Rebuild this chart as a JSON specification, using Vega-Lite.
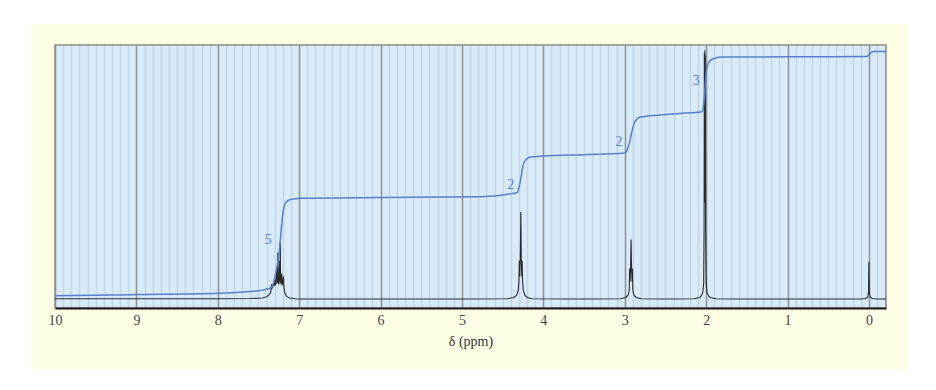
{
  "$schema": "https://vega.github.io/schema/vega-lite/v6.json",
  "width": 831,
  "height": 263,
  "autosize": "none",
  "padding": {"left": 55, "top": 45, "right": 50, "bottom": 82},
  "background": "white",
  "config": {"view": {"stroke": null, "fill": "#d9eaf8"}, "font": "Liberation Serif"},
  "datasets": {
    "spectrum": [
      {"ppm": 10, "s": 3.5}, {"ppm": 8, "s": 3.5}, {"ppm": 7.6, "s": 3.6}, {"ppm": 7.45, "s": 3.8}, {"ppm": 7.4, "s": 4.3}, {"ppm": 7.37, "s": 5.0}, {"ppm": 7.35, "s": 6.0},
      {"ppm": 7.345, "s": 7}, {"ppm": 7.34, "s": 9}, {"ppm": 7.335, "s": 7.5}, {"ppm": 7.325, "s": 8}, {"ppm": 7.315, "s": 9.5}, {"ppm": 7.305, "s": 8.5}, {"ppm": 7.3, "s": 11}, {"ppm": 7.295, "s": 8.5}, {"ppm": 7.285, "s": 9.5}, {"ppm": 7.28, "s": 14}, {"ppm": 7.275, "s": 9.5}, {"ppm": 7.268, "s": 10}, {"ppm": 7.262, "s": 21}, {"ppm": 7.256, "s": 9.5}, {"ppm": 7.248, "s": 9}, {"ppm": 7.24, "s": 18}, {"ppm": 7.236, "s": 10}, {"ppm": 7.232, "s": 25}, {"ppm": 7.228, "s": 10}, {"ppm": 7.22, "s": 9}, {"ppm": 7.214, "s": 13}, {"ppm": 7.208, "s": 9}, {"ppm": 7.2, "s": 9.5}, {"ppm": 7.193, "s": 12}, {"ppm": 7.187, "s": 8}, {"ppm": 7.18, "s": 6.5}, {"ppm": 7.17, "s": 5.2}, {"ppm": 7.15, "s": 4.3}, {"ppm": 7.12, "s": 3.8}, {"ppm": 7.05, "s": 3.5},
      {"ppm": 7.0, "s": 3.4}, {"ppm": 6.0, "s": 3.4}, {"ppm": 5.0, "s": 3.4}, {"ppm": 4.45, "s": 3.5}, {"ppm": 4.36, "s": 4.0}, {"ppm": 4.33, "s": 4.8}, {"ppm": 4.31, "s": 6.5},
      {"ppm": 4.3, "s": 10}, {"ppm": 4.295, "s": 18}, {"ppm": 4.29, "s": 12}, {"ppm": 4.283, "s": 19}, {"ppm": 4.277, "s": 36.5}, {"ppm": 4.271, "s": 19}, {"ppm": 4.265, "s": 12}, {"ppm": 4.26, "s": 18}, {"ppm": 4.255, "s": 10}, {"ppm": 4.245, "s": 6.5}, {"ppm": 4.225, "s": 4.8}, {"ppm": 4.2, "s": 4.0}, {"ppm": 4.14, "s": 3.5},
      {"ppm": 3.5, "s": 3.4}, {"ppm": 3.05, "s": 3.5}, {"ppm": 2.99, "s": 4.0}, {"ppm": 2.96, "s": 4.8}, {"ppm": 2.945, "s": 6.5}, {"ppm": 2.94, "s": 15}, {"ppm": 2.935, "s": 10}, {"ppm": 2.928, "s": 15}, {"ppm": 2.922, "s": 26}, {"ppm": 2.916, "s": 15}, {"ppm": 2.91, "s": 10}, {"ppm": 2.905, "s": 15}, {"ppm": 2.9, "s": 6.5}, {"ppm": 2.885, "s": 4.8}, {"ppm": 2.86, "s": 4.0}, {"ppm": 2.8, "s": 3.5},
      {"ppm": 2.5, "s": 3.4}, {"ppm": 2.15, "s": 3.5}, {"ppm": 2.08, "s": 4.0}, {"ppm": 2.06, "s": 4.6}, {"ppm": 2.04, "s": 6}, {"ppm": 2.03, "s": 9.5}, {"ppm": 2.025, "s": 30}, {"ppm": 2.022, "s": 97}, {"ppm": 2.019, "s": 40}, {"ppm": 2.016, "s": 98}, {"ppm": 2.013, "s": 40}, {"ppm": 2.01, "s": 96}, {"ppm": 2.006, "s": 30}, {"ppm": 2.0, "s": 9.5}, {"ppm": 1.99, "s": 6}, {"ppm": 1.97, "s": 4.6}, {"ppm": 1.95, "s": 4.0}, {"ppm": 1.88, "s": 3.5}, {"ppm": 1.6, "s": 3.4},
      {"ppm": 1.0, "s": 3.4}, {"ppm": 0.1, "s": 3.4}, {"ppm": 0.04, "s": 3.6}, {"ppm": 0.015, "s": 4.2}, {"ppm": 0.005, "s": 6}, {"ppm": 0.0, "s": 17.6}, {"ppm": -0.005, "s": 6}, {"ppm": -0.015, "s": 4.2}, {"ppm": -0.04, "s": 3.6}, {"ppm": -0.1, "s": 3.4}, {"ppm": -0.21, "s": 3.4}
    ],
    "integral": [
      {"ppm": 10, "i": 4.7}, {"ppm": 9, "i": 5.1}, {"ppm": 8, "i": 5.6}, {"ppm": 7.6, "i": 6.3}, {"ppm": 7.45, "i": 6.8}, {"ppm": 7.4, "i": 7.2}, {"ppm": 7.35, "i": 7.6}, {"ppm": 7.32, "i": 9}, {"ppm": 7.29, "i": 13}, {"ppm": 7.26, "i": 18}, {"ppm": 7.24, "i": 23.3}, {"ppm": 7.22, "i": 30}, {"ppm": 7.2, "i": 36}, {"ppm": 7.18, "i": 39}, {"ppm": 7.155, "i": 40.4}, {"ppm": 7.12, "i": 41.1}, {"ppm": 7.07, "i": 41.4}, {"ppm": 6.99, "i": 41.7}, {"ppm": 6.0, "i": 42.0}, {"ppm": 4.78, "i": 42.3}, {"ppm": 4.4, "i": 43.4}, {"ppm": 4.33, "i": 43.8}, {"ppm": 4.31, "i": 44.6}, {"ppm": 4.29, "i": 47}, {"ppm": 4.27, "i": 50.5}, {"ppm": 4.25, "i": 54}, {"ppm": 4.23, "i": 55.8}, {"ppm": 4.2, "i": 56.8}, {"ppm": 4.17, "i": 57.3}, {"ppm": 4.0, "i": 57.8}, {"ppm": 3.5, "i": 58.3}, {"ppm": 3.02, "i": 58.8}, {"ppm": 2.98, "i": 59.5}, {"ppm": 2.96, "i": 61}, {"ppm": 2.94, "i": 63}, {"ppm": 2.92, "i": 66}, {"ppm": 2.9, "i": 68.5}, {"ppm": 2.88, "i": 70.5}, {"ppm": 2.85, "i": 71.8}, {"ppm": 2.81, "i": 72.6}, {"ppm": 2.57, "i": 73.4}, {"ppm": 2.2, "i": 74.2}, {"ppm": 2.06, "i": 74.5}, {"ppm": 2.04, "i": 75.2}, {"ppm": 2.025, "i": 79}, {"ppm": 2.01, "i": 85}, {"ppm": 2.0, "i": 89}, {"ppm": 1.985, "i": 92}, {"ppm": 1.96, "i": 93.7}, {"ppm": 1.93, "i": 94.5}, {"ppm": 1.9, "i": 94.9}, {"ppm": 1.8, "i": 95.4}, {"ppm": 1.0, "i": 95.5}, {"ppm": 0.03, "i": 95.6}, {"ppm": 0.01, "i": 96}, {"ppm": -0.01, "i": 96.6}, {"ppm": -0.03, "i": 97.2}, {"ppm": -0.06, "i": 97.5}, {"ppm": -0.21, "i": 97.5}
    ],
    "labels": [
      {"ppm": 7.38, "v": 25.9, "t": "5"},
      {"ppm": 4.4, "v": 46.8, "t": "2"},
      {"ppm": 3.07, "v": 63.2, "t": "2"},
      {"ppm": 2.12, "v": 86.4, "t": "3"}
    ]
  },
  "layer": [
    {
      "data": {"values": [{}]},
      "mark": {"type": "rect", "fill": "#fefde6"},
      "encoding": {
        "x": {"datum": 10.295, "type": "quantitative", "scale": {"domain": [-0.21, 10], "reverse": true, "nice": false, "zero": false}, "axis": null},
        "x2": {"datum": -0.491},
        "y": {"datum": 100, "type": "quantitative", "scale": {"domain": [0, 100], "nice": false, "zero": false}, "axis": null},
        "y2": {"datum": 108}
      }
    },
    {
      "data": {"values": [{}]},
      "mark": {"type": "rect", "fill": "#fefde6"},
      "encoding": {
        "x": {"datum": 10.295, "type": "quantitative", "axis": null},
        "x2": {"datum": -0.491},
        "y": {"datum": -23.6, "type": "quantitative", "axis": null},
        "y2": {"datum": 0}
      }
    },
    {
      "data": {"values": [{}]},
      "mark": {"type": "rect", "fill": "#fefde6"},
      "encoding": {
        "x": {"datum": 10.295, "type": "quantitative", "axis": null},
        "x2": {"datum": 10},
        "y": {"datum": -23.6, "type": "quantitative", "axis": null},
        "y2": {"datum": 108}
      }
    },
    {
      "data": {"values": [{}]},
      "mark": {"type": "rect", "fill": "#fefde6"},
      "encoding": {
        "x": {"datum": -0.21, "type": "quantitative", "axis": null},
        "x2": {"datum": -0.491},
        "y": {"datum": -23.6, "type": "quantitative", "axis": null},
        "y2": {"datum": 108}
      }
    },
    {
      "data": {"values": [{}]},
      "mark": {"type": "rect", "fillOpacity": 0, "stroke": "#8a8a8a", "strokeWidth": 1.5},
      "encoding": {
        "x": {"datum": 10, "type": "quantitative", "axis": {
          "orient": "bottom",
          "values": [-0.2, -0.1, 0, 0.1, 0.2, 0.3, 0.4, 0.5, 0.6, 0.7, 0.8, 0.9, 1, 1.1, 1.2, 1.3, 1.4, 1.5, 1.6, 1.7, 1.8, 1.9, 2, 2.1, 2.2, 2.3, 2.4, 2.5, 2.6, 2.7, 2.8, 2.9, 3, 3.1, 3.2, 3.3, 3.4, 3.5, 3.6, 3.7, 3.8, 3.9, 4, 4.1, 4.2, 4.3, 4.4, 4.5, 4.6, 4.7, 4.8, 4.9, 5, 5.1, 5.2, 5.3, 5.4, 5.5, 5.6, 5.7, 5.8, 5.9, 6, 6.1, 6.2, 6.3, 6.4, 6.5, 6.6, 6.7, 6.8, 6.9, 7, 7.1, 7.2, 7.3, 7.4, 7.5, 7.6, 7.7, 7.8, 7.9, 8, 8.1, 8.2, 8.3, 8.4, 8.5, 8.6, 8.7, 8.8, 8.9, 9, 9.1, 9.2, 9.3, 9.4, 9.5, 9.6, 9.7, 9.8, 9.9, 10],
          "grid": true, "gridColor": "#c3d4e5", "gridWidth": 1.5, "labels": false, "ticks": false, "domain": false, "title": null, "zindex": 0}},
        "x2": {"datum": -0.21},
        "y": {"datum": 0, "type": "quantitative", "axis": null},
        "y2": {"datum": 100}
      }
    },
    {
      "data": {"name": "spectrum"},
      "mark": {"type": "line", "color": "#2b2b2b", "strokeWidth": 1.1},
      "encoding": {
        "x": {"field": "ppm", "type": "quantitative", "axis": {
          "orient": "bottom",
          "values": [0, 1, 2, 3, 4, 5, 6, 7, 8, 9, 10],
          "grid": true, "gridColor": "#8f959b", "gridWidth": 1.5, "ticks": false, "labels": false, "domain": false, "title": null,
          "zindex": 0}},
        "y": {"field": "s", "type": "quantitative", "axis": null}
      }
    },
    {
      "data": {"name": "integral"},
      "mark": {"type": "line", "color": "#5581cc", "strokeWidth": 1.5, "interpolate": "monotone"},
      "encoding": {
        "x": {"field": "ppm", "type": "quantitative", "axis": {
          "orient": "bottom",
          "values": [0, 1, 2, 3, 4, 5, 6, 7, 8, 9, 10], "format": "d",
          "grid": false, "ticks": false, "labelFlush": false,
          "domain": true, "domainColor": "#1a1a1a", "domainWidth": 2,
          "labelFont": "Liberation Serif", "labelFontSize": 14, "labelColor": "#444444", "labelPadding": 5,
          "title": "δ (ppm)", "titleFont": "Liberation Serif", "titleFontSize": 14, "titleFontWeight": "normal", "titleColor": "#333333", "titlePadding": 7,
          "zindex": 1}},
        "y": {"field": "i", "type": "quantitative", "axis": null}
      }
    },
    {
      "data": {"name": "labels"},
      "mark": {"type": "text", "color": "#5581cc", "font": "Liberation Serif", "fontSize": 14, "align": "center", "baseline": "middle"},
      "encoding": {
        "x": {"field": "ppm", "type": "quantitative", "axis": null},
        "y": {"field": "v", "type": "quantitative", "axis": null},
        "text": {"field": "t"}
      }
    }
  ],
  "resolve": {"axis": {"x": "independent", "y": "independent"}}
}
